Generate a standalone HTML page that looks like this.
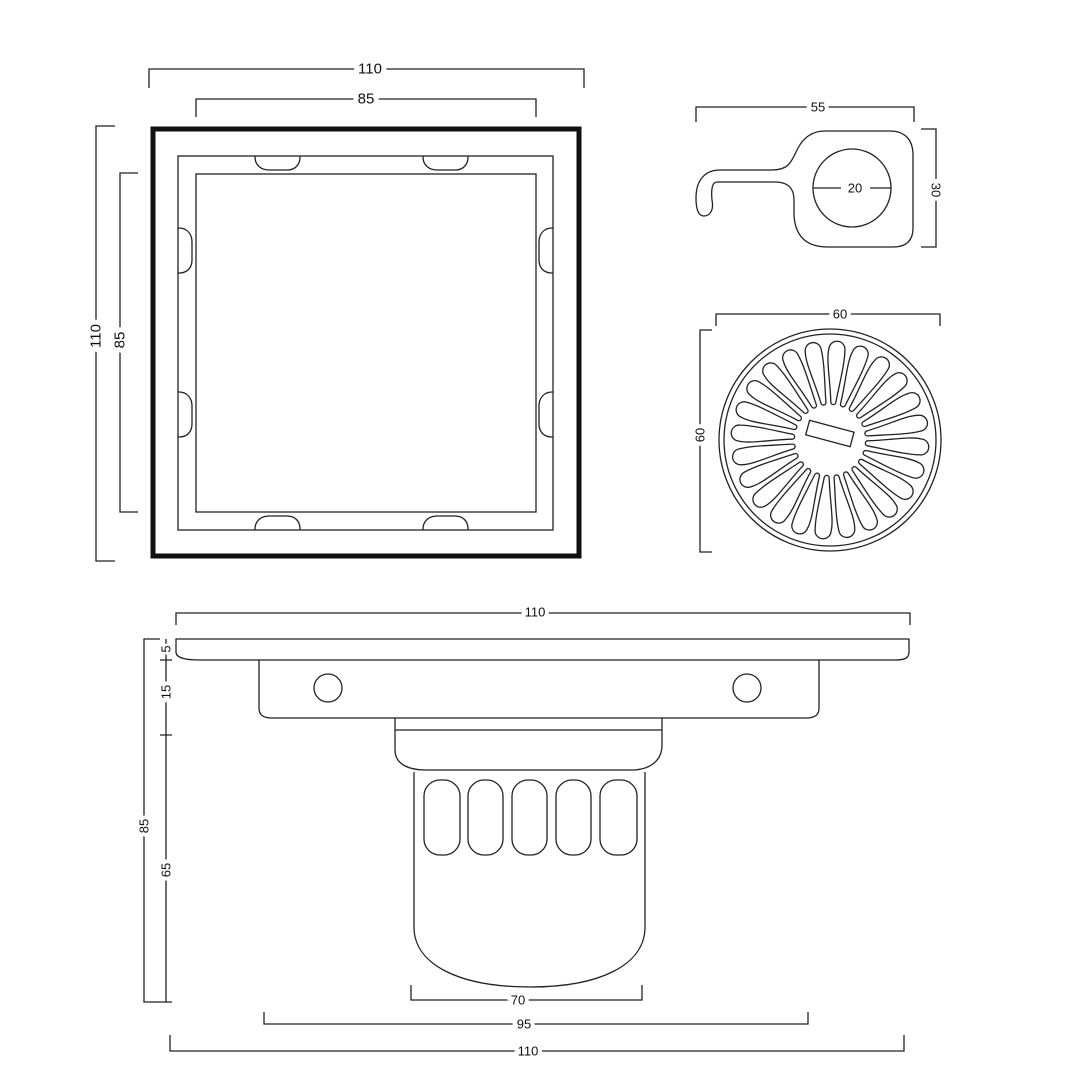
<!DOCTYPE html>
<html><head><style>body{margin:0;background:#fff}svg{display:block}</style></head><body>
<svg width="1085" height="1084" viewBox="0 0 1085 1084" xmlns="http://www.w3.org/2000/svg" font-family="Liberation Sans, sans-serif" font-size="14">
<rect width="1085" height="1084" fill="#fff"/>
<g fill="none" stroke="#222" stroke-width="1.3">
<rect x="153" y="129" width="426" height="427" stroke-width="5" stroke="#111"/>
<rect x="178" y="156" width="375" height="374"/>
<rect x="196" y="174" width="340" height="338"/>
<path d="M255,156 v1 c0,8 6,13 14,13 h18 c8,0 13,-5 13,-13 v-1"/>
<path d="M423,156 v1 c0,8 6,13 14,13 h18 c8,0 13,-5 13,-13 v-1"/>
<path d="M255,530 v-1 c0,-8 6,-13 14,-13 h18 c8,0 13,5 13,13 v1"/>
<path d="M423,530 v-1 c0,-8 6,-13 14,-13 h18 c8,0 13,5 13,13 v1"/>
<path d="M178,228 h1 c8,0 13,6 13,14 v18 c0,8 -5,13 -13,13 h-1"/>
<path d="M178,392 h1 c8,0 13,6 13,14 v18 c0,8 -5,13 -13,13 h-1"/>
<path d="M553,228 h-1 c-8,0 -13,6 -13,14 v18 c0,8 5,13 13,13 h1"/>
<path d="M553,392 h-1 c-8,0 -13,6 -13,14 v18 c0,8 5,13 13,13 h1"/>
<path d="M149,88 V69 H584 V88"/>
<path d="M196,117 V99 H536 V117"/>
<path d="M115,126 H96 V561 H115"/>
<path d="M138,173 H120 V512 H138"/>
<path d="M720,170 H772 C790,170 792,160 798,148 C805,135 815,131 825,131 H890 C905,131 913,140 913,155 V228 C913,242 905,247 893,247 H828 C805,247 795,235 794,215 V200 C794,188 788,182 775,182 H717 C712,182 711,190 712,200 C714,210 710,216 704,216 C698,216 696,208 696,198 C696,180 705,170 720,170 Z"/>
<circle cx="852" cy="188" r="39"/>
<path d="M813,188 H841 M870,188 H891"/>
<path d="M696,122 V107 H914 V122"/>
<path d="M921,129 H936 V247 H921"/>
<circle cx="830" cy="440" r="111"/>
<circle cx="830" cy="440" r="106"/>
<rect x="807" y="426" width="46" height="15" transform="rotate(15 830 433)"/>
<g transform="translate(830,440)">
<path id="p" d="M-2.5,-38 C-5,-60 -11,-80 -9,-91 A8,8 0 0 1 7,-91 C8,-78 5,-60 2.5,-38 A2.5,2.5 0 0 1 -2.5,-38 Z" transform="rotate(5)"/>
<use href="#p" transform="rotate(15)"/><use href="#p" transform="rotate(30)"/><use href="#p" transform="rotate(45)"/><use href="#p" transform="rotate(60)"/><use href="#p" transform="rotate(75)"/><use href="#p" transform="rotate(90)"/><use href="#p" transform="rotate(105)"/><use href="#p" transform="rotate(120)"/><use href="#p" transform="rotate(135)"/><use href="#p" transform="rotate(150)"/><use href="#p" transform="rotate(165)"/><use href="#p" transform="rotate(180)"/><use href="#p" transform="rotate(195)"/><use href="#p" transform="rotate(210)"/><use href="#p" transform="rotate(225)"/><use href="#p" transform="rotate(240)"/><use href="#p" transform="rotate(255)"/><use href="#p" transform="rotate(270)"/><use href="#p" transform="rotate(285)"/><use href="#p" transform="rotate(300)"/><use href="#p" transform="rotate(315)"/><use href="#p" transform="rotate(330)"/><use href="#p" transform="rotate(345)"/>
</g>
<path d="M716,326 V314 H940 V326"/>
<path d="M712,330 H700 V552 H712"/>
<path d="M176,639 H909 V652 C909,658 905,660 895,660 H200 C185,660 176,658 176,652 Z"/>
<path d="M259,660 V708 C259,715 263,718 272,718 H806 C815,718 819,715 819,708 V660"/>
<circle cx="328" cy="688" r="14"/><circle cx="747" cy="688" r="14"/>
<path d="M395,718 V750 C395,765 410,770 425,770 H632 C648,770 662,762 662,745 V718"/>
<path d="M395,730 H662"/>
<path d="M414,772 V927 C414,965 460,987 530,987 C600,987 645,965 645,927 V772"/>
<rect x="424" y="780" width="36" height="75" rx="16"/>
<rect x="468" y="780" width="35" height="75" rx="16"/>
<rect x="512" y="780" width="35" height="75" rx="16"/>
<rect x="556" y="780" width="35" height="75" rx="16"/>
<rect x="600" y="780" width="37" height="75" rx="16"/>
<path d="M176,625 V613 H910 V625"/>
<path d="M160,639 H144 V1002 H160"/>
<path d="M166,639 V1002 M160,660 H172 M160,735 H172 M160,1002 H172"/>
<path d="M411,985 V1000 H642 V985"/>
<path d="M264,1012 V1024 H808 V1012"/>
<path d="M170,1035 V1051 H904 V1035"/>
</g>
<g fill="#111" text-anchor="middle" dominant-baseline="central">
<text x="370" y="69" font-size="15" style="paint-order:stroke" stroke="#fff" stroke-width="10">110</text>
<text x="366" y="99" font-size="15" stroke="#fff" stroke-width="10" style="paint-order:stroke">85</text>
<text transform="translate(96,336) rotate(-90)" font-size="15" stroke="#fff" stroke-width="10" style="paint-order:stroke">110</text>
<text transform="translate(120,340) rotate(-90)" font-size="15" stroke="#fff" stroke-width="10" style="paint-order:stroke">85</text>
<text x="818" y="107" font-size="13" stroke="#fff" stroke-width="8" style="paint-order:stroke">55</text>
<text x="855" y="188" font-size="13" stroke="#fff" stroke-width="6" style="paint-order:stroke">20</text>
<text transform="translate(936,190) rotate(90)" font-size="13" stroke="#fff" stroke-width="8" style="paint-order:stroke">30</text>
<text x="840" y="314" font-size="13" stroke="#fff" stroke-width="8" style="paint-order:stroke">60</text>
<text transform="translate(700,435) rotate(-90)" font-size="13" stroke="#fff" stroke-width="8" style="paint-order:stroke">60</text>
<text x="535" y="612" font-size="13" stroke="#fff" stroke-width="8" style="paint-order:stroke">110</text>
<text transform="translate(144,826) rotate(-90)" font-size="13" stroke="#fff" stroke-width="8" style="paint-order:stroke">85</text>
<text transform="translate(166,649) rotate(-90)" font-size="13" stroke="#fff" stroke-width="5" style="paint-order:stroke">5</text>
<text transform="translate(166,692) rotate(-90)" font-size="13" stroke="#fff" stroke-width="8" style="paint-order:stroke">15</text>
<text transform="translate(166,870) rotate(-90)" font-size="13" stroke="#fff" stroke-width="8" style="paint-order:stroke">65</text>
<text x="518" y="1000" font-size="13" stroke="#fff" stroke-width="8" style="paint-order:stroke">70</text>
<text x="524" y="1024" font-size="13" stroke="#fff" stroke-width="8" style="paint-order:stroke">95</text>
<text x="528" y="1051" font-size="13" stroke="#fff" stroke-width="8" style="paint-order:stroke">110</text>
</g>
</svg>
</body></html>
